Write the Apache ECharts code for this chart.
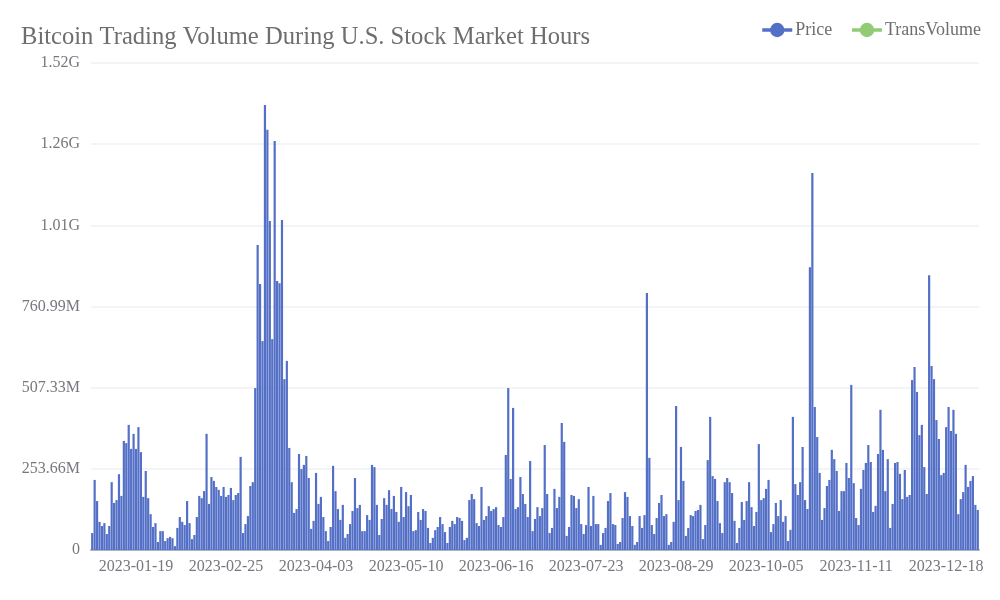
<!DOCTYPE html>
<html>
<head>
<meta charset="utf-8">
<title>Bitcoin Trading Volume During U.S. Stock Market Hours</title>
<style>
  html, body { margin: 0; padding: 0; background: #fff; }
  #chart { width: 1000px; height: 600px; }
</style>
<script src="https://cdn.jsdelivr.net/npm/echarts@6/dist/echarts.min.js"></script>
</head>
<body>
<div id="chart"></div>
<script>
// daily volume, in millions
var volumeJan = [53, 219, 153, 88, 75, 84, 50, 75, 212, 147, 156, 237, 169, 341, 334, 391, 316, 363, 316, 384, 306, 166, 247, 162, 112, 72, 84, 25, 59, 59, 28];
var volumeFeb = [37, 41, 37, 12, 69, 103, 88, 78, 153, 84, 34, 47, 103, 169, 162, 184, 363, 144, 228, 216, 197, 188, 169, 197, 166, 172, 194, 156];
var volumeMar = [172, 178, 291, 53, 81, 106, 200, 212, 506, 953, 831, 653, 1391, 1313, 1028, 659, 1278, 841, 834, 1031, 534, 591, 319, 212, 116, 128, 300, 253, 266, 294, 225];
var volumeApr = [66, 91, 241, 144, 166, 103, 59, 28, 72, 263, 184, 128, 94, 141, 38, 50, 81, 122, 225, 131, 141, 59, 59, 109, 94, 266, 259, 141, 47, 97];
var volumeMay = [162, 141, 187, 128, 169, 119, 88, 197, 103, 181, 137, 172, 59, 62, 119, 94, 128, 122, 69, 22, 38, 62, 72, 103, 81, 56, 22, 72, 91, 81, 103];
var volumeJun = [100, 91, 31, 38, 156, 175, 159, 84, 75, 197, 94, 106, 137, 122, 128, 134, 78, 72, 103, 297, 506, 222, 444, 128, 134, 228, 175, 144, 103, 278];
var volumeJul = [59, 97, 134, 106, 131, 328, 175, 53, 69, 191, 131, 166, 397, 338, 44, 72, 172, 169, 131, 159, 81, 50, 78, 197, 75, 169, 81, 81, 16, 53, 69];
var volumeAug = [153, 178, 81, 78, 19, 25, 100, 181, 166, 106, 75, 16, 25, 106, 69, 109, 803, 288, 78, 50, 100, 147, 172, 106, 112, 16, 25, 88, 450, 156, 322];
var volumeSep = [216, 44, 69, 109, 106, 122, 125, 141, 34, 78, 281, 416, 231, 222, 153, 84, 53, 212, 225, 212, 178, 91, 22, 69, 150, 94, 153, 212, 134, 75];
var volumeOct = [119, 331, 156, 162, 191, 219, 56, 81, 147, 106, 156, 88, 106, 28, 63, 416, 206, 172, 212, 322, 156, 128, 884, 1178, 447, 353, 241, 94, 131, 200, 219];
var volumeNov = [313, 284, 247, 122, 184, 184, 272, 225, 516, 209, 100, 78, 191, 250, 272, 328, 275, 119, 138, 300, 438, 313, 184, 284, 69, 144, 272, 275, 238, 159];
var volumeDec = [250, 166, 172, 531, 572, 494, 359, 391, 259, 175, 859, 575, 534, 406, 347, 234, 241, 384, 447, 372, 438, 363, 112, 159, 181, 266, 197, 216, 231, 141, 125];

var months = [volumeJan, volumeFeb, volumeMar, volumeApr, volumeMay, volumeJun, volumeJul, volumeAug, volumeSep, volumeOct, volumeNov, volumeDec];
var monthNames = ['01', '02', '03', '04', '05', '06', '07', '08', '09', '10', '11', '12'];

var categories = [];
var volume = [];
months.forEach(function (m, mi) {
  m.forEach(function (v, di) {
    var day = di + 1;
    categories.push('2023-' + monthNames[mi] + '-' + (day < 10 ? '0' + day : day));
    volume.push(v * 1e6);
  });
});

var legendNames = ['Price', 'TransVolume'];
var fontName = '"Liberation Serif", serif';
var tickStep = 253665500;

// the reference cuts the decimals instead of rounding them
function formatVolume(v) {
  if (v === 0) return '0';
  if (v >= 1e9) return (Math.floor(v / 1e7) / 100).toFixed(2) + 'G';
  return (Math.floor(v / 1e4) / 100).toFixed(2) + 'M';
}

var chart = echarts.init(document.getElementById('chart'), null, { renderer: 'canvas' });
chart.setOption({
  animation: false,
  textStyle: { fontFamily: fontName },
  title: {
    text: 'Bitcoin Trading Volume During U.S. Stock Market Hours',
    left: 16,
    top: 20,
    textStyle: { fontFamily: fontName, fontSize: 24.6, fontWeight: 'normal', color: '#6e6e6e' }
  },
  legend: {
    data: legendNames,
    top: 16,
    right: 14,
    itemWidth: 30,
    itemHeight: 18,
    itemGap: 18,
    lineStyle: { width: 3.5 },
    textStyle: { fontFamily: fontName, fontSize: 18, color: '#6e6e6e', padding: [0, 0, 0, -2] }
  },
  grid: { left: 91, right: 21, top: 63, bottom: 50 },
  xAxis: {
    type: 'category',
    data: categories,
    axisLine: { lineStyle: { color: '#b0b4bd', width: 2 } },
    axisTick: { interval: 36, length: 5, lineStyle: { color: '#b0b4bd', width: 1 } },
    axisLabel: {
      color: '#77787f',
      fontFamily: fontName,
      fontSize: 16,
      margin: 9,
      interval: function (index) { return index % 37 === 18; }
    }
  },
  yAxis: {
    type: 'value',
    min: 0,
    max: tickStep * 6,
    interval: tickStep,
    axisLabel: {
      color: '#77787f',
      fontFamily: fontName,
      fontSize: 16,
      margin: 11,
      formatter: formatVolume
    },
    splitLine: { lineStyle: { color: '#eef0f3', width: 1.5 } }
  },
  series: [
    { name: 'Price', type: 'line', data: [], symbol: 'circle', itemStyle: { color: '#5470c6' }, lineStyle: { width: 3.5 } },
    { name: 'TransVolume', type: 'line', data: [], symbol: 'circle', itemStyle: { color: '#91cc75' }, lineStyle: { width: 3.5 } },
    { name: 'Price', type: 'bar', data: volume, barWidth: 2.2, itemStyle: { color: '#5470c6' } }
  ]
});
</script>
</body>
</html>
